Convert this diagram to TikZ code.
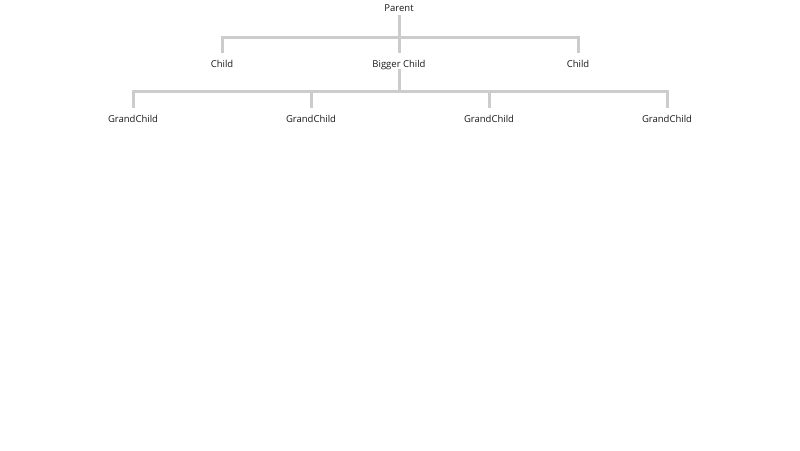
\documentclass[tikz,border=0pt]{standalone}
\usepackage{fontspec}
\setmainfont{Open Sans}
\usetikzlibrary{positioning}

\begin{document}
\begin{tikzpicture}[
        every node/.style={font=\fontsize{9.5}{11}\selectfont, text=black!90,
            inner sep=0pt, minimum height=16pt, text height=13.2pt, text depth=0pt},
        top label/.style={text height=9.2pt},
        link/.style={draw=black!20, line width=3pt},
        yscale=-1,
        x=1pt,
        y=1pt
    ]
    \useasboundingbox (0,0) rectangle (800,450);
    \node[top label] (parent) at (399,7) {Parent};
    \node (child1) at (222,61) {Child};
    \node (bigger) at (399,61) {Bigger Child};
    \node (child3) at (578,61) {Child};
    \node (grand1) at (133,116) {GrandChild};
    \node (grand2) at (311,116) {GrandChild};
    \node (grand3) at (489,116) {GrandChild};
    \node (grand4) at (667,116) {GrandChild};
    \coordinate (bar1) at (399,37);
    \coordinate (bar2) at (399,91);

    \draw[link] (parent) -- (bar1) -- (bigger);
    \draw[link] (bar1) -| (child1);
    \draw[link] (bar1) -| (child3);

    \draw[link] (bigger) -- (bar2);
    \draw[link] (bar2) -| (grand1);
    \draw[link] (bar2) -| (grand2);
    \draw[link] (bar2) -| (grand3);
    \draw[link] (bar2) -| (grand4);
\end{tikzpicture}
\end{document}
